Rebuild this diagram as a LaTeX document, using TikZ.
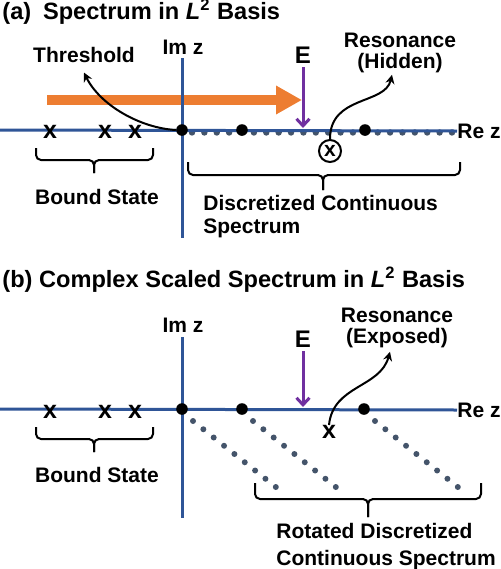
\documentclass[tikz,border=0pt]{standalone}
\usepackage{fontspec}
\setmainfont{Liberation Sans}
\usetikzlibrary{arrows.meta,positioning}
\definecolor{AxisBlue}{RGB}{47,85,151}
\definecolor{DotBlue}{RGB}{68,84,106}
\definecolor{SweepOrange}{RGB}{237,125,49}
\definecolor{EnergyPurple}{RGB}{112,48,160}
\tikzset{
  axis/.style={AxisBlue,line width=1.5pt},
  lbl/.style={font=\fontsize{10.5}{12}\selectfont\bfseries,inner sep=0pt},
  ttl/.style={font=\fontsize{11.8}{14}\selectfont\bfseries,inner sep=0pt,anchor=base west},
  elbl/.style={font=\fontsize{12}{14}\selectfont\bfseries,inner sep=0pt,anchor=base},
  xlbl/.style={font=\fontsize{12.5}{14}\selectfont\bfseries,inner sep=0pt},
  bigdot/.style={circle,fill=black,inner sep=0pt,minimum size=5.8pt},
  sweep/.style={SweepOrange,line width=5pt,-{Triangle[length=13pt,width=13.5pt]}},
  epoint/.style={EnergyPurple,line width=1.5pt,-{Straight Barb[length=3.5pt,width=6.5pt]},shorten >=1pt},
  callout/.style={line width=1pt,-{Stealth[length=4.5pt,width=4.5pt]}},
  bracket/.style={line width=1pt,rounded corners=2.5pt},
}
\begin{document}
\begin{tikzpicture}[x=0.5pt,y=-0.5pt]
\useasboundingbox (0,0) rectangle (500,569);

% (a) spectrum in the L2 basis
\node[ttl] (ttlA) at (2,19) {(a)\hspace{0.5em}Spectrum in \textit{L}\textsuperscript{2} Basis};
\draw[sweep] (47,100) -- (302,100);
\foreach \i in {0,...,21}
  \fill[DotBlue] (192+12.38*\i,132.5) circle (1.6pt);
\node[lbl,anchor=west] (reA) at (457,131) {Re z};
\node[lbl,anchor=base] (imA) at (183,54) {Im z};
\draw[axis] (0,130) -- (reA.west);
\draw[axis] (182,58) -- (182,238);
\foreach \x/\n in {50/1,105/2,135/3}
  \node[xlbl] (bndA\n) at (\x,132) {x};
\node[bigdot] (thrA) at (182,130) {};
\node[bigdot] (dotA1) at (242,130) {};
\node[bigdot] (dotA2) at (365,130) {};
\node[lbl,draw,circle,line width=1pt,minimum size=11pt] (resA) at (330,151) {x};
\node[elbl] (eA) at (303,63) {E};
\draw[epoint] ([yshift=-2pt]eA.south) -- (eA.south |- thrA);
\node[lbl,anchor=base] (thlblA) at (84,62) {Threshold};
\draw[callout] (thrA.west) .. controls (140,128) and (100,105) .. ([yshift=-5pt]thlblA.south);
\node[lbl,anchor=base] (reslblA) at (400,47) {Resonance};
\node[lbl,anchor=base] (hidA) at (400,68) {(Hidden)};
\draw[callout] (resA.north) .. controls (330,95) and (385,105) .. ([xshift=-4pt,yshift=-1pt]hidA.south);
\draw[bracket] (36,148) |- (94,160) -- (94,173);
\draw[bracket] (153,148) |- (94,160) -- (94,173);
\node[lbl,anchor=base] (bsA) at (97,204) {Bound State};
\draw[bracket] (188,162) |- (323,175) -- (323,190);
\draw[bracket] (460,162) |- (323,175) -- (323,190);
\node[lbl,anchor=base west] (dcsA1) at (203,210) {Discretized Continuous};
\node[lbl,anchor=base west] (dcsA2) at (203,233) {Spectrum};

% (b) complex scaled spectrum
\node[ttl] (ttlB) at (2,287) {(b) Complex Scaled Spectrum in \textit{L}\textsuperscript{2} Basis};
\foreach \cx in {182,242,364}
  \foreach \i in {0,...,8}
    \fill[DotBlue] (\cx+11+10.35*\i,421+8.25*\i) circle (1.5pt);
\node[lbl,anchor=west] (reB) at (457,410) {Re z};
\node[lbl,anchor=base] (imB) at (183,332) {Im z};
\draw[axis] (0,409) -- (reB.west);
\draw[axis] (182,337) -- (182,518);
\node[bigdot] (thrB) at (182,409) {};
\node[bigdot] (dotB1) at (242,409) {};
\node[bigdot] (dotB2) at (364,409) {};
\foreach \x/\n in {50/1,105/2,135/3}
  \node[xlbl] (bndB\n) at (\x,412) {x};
\node[xlbl] (resB) at (329,432) {x};
\node[elbl] (eB) at (303,347) {E};
\draw[epoint] ([yshift=-2pt]eB.south) -- (eB.south |- thrB);
\node[lbl,anchor=base] (reslblB) at (397,322) {Resonance};
\node[lbl,anchor=base] (expB) at (397,343) {(Exposed)};
\draw[callout] (resB.north) .. controls (333,385) and (380,388) .. ([xshift=-3.5pt,yshift=-2pt]expB.south);
\draw[bracket] (36,427) |- (94,439) -- (94,452);
\draw[bracket] (153,427) |- (94,439) -- (94,452);
\node[lbl,anchor=base] (bsB) at (97,482) {Bound State};
\draw[bracket] (255,483) |- (368,499) -- (368,517);
\draw[bracket] (481,483) |- (368,499) -- (368,517);
\node[lbl,anchor=base west] (rdcB1) at (276,538) {Rotated Discretized};
\node[lbl,anchor=base west] (rdcB2) at (276,565) {Continuous Spectrum};
\end{tikzpicture}
\end{document}
